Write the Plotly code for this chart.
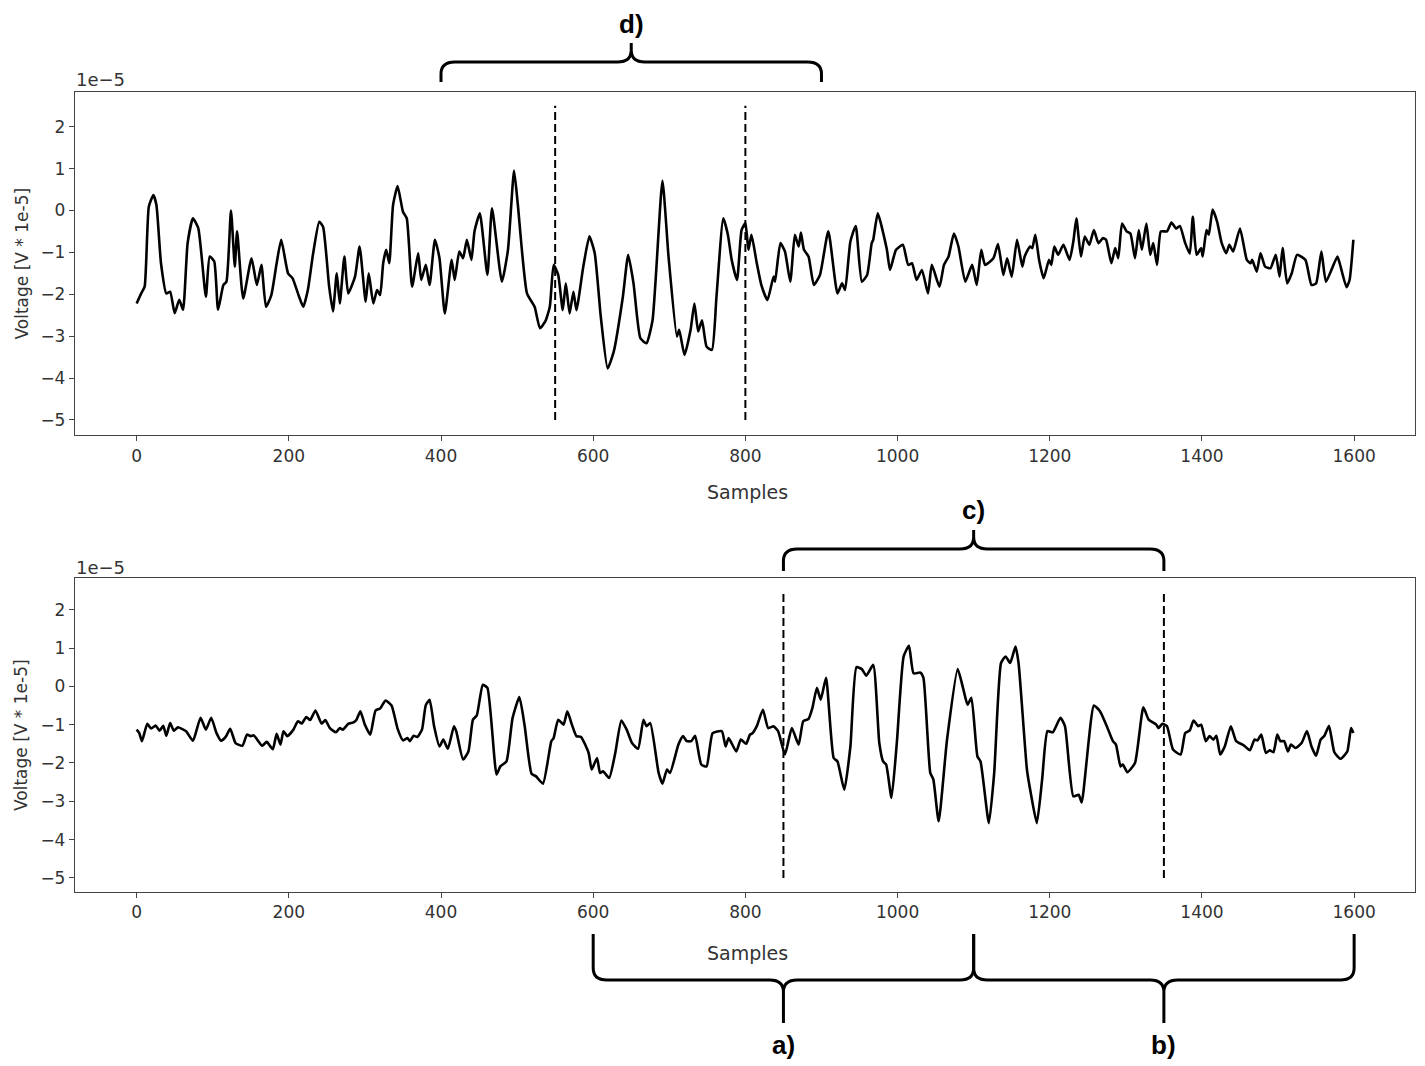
import plotly.graph_objects as go

# ---------------- data ----------------
top_samples = [0, 6, 10.5, 16, 22, 26, 32, 39, 44, 50, 56, 61, 67, 74, 81, 91, 96, 102, 107, 114, 118, 124, 129, 132,
               140, 151, 158, 164, 170, 177, 184, 190, 199, 205, 212, 219, 225, 232, 240, 245, 253, 258, 263, 267,
               273, 278, 287, 293, 301, 305, 311, 316, 320, 324, 328, 332, 337, 343, 350, 355, 362, 370, 374, 380,
               385, 392, 398, 405, 414, 418, 424, 429, 434, 440, 444, 451, 461, 467, 480, 488, 496, 501, 513, 523,
               530, 537, 543, 548, 554, 560, 564, 569, 574, 578, 587, 595, 602, 610, 619, 627, 639, 646, 653, 662,
               670, 678, 691, 699, 710, 713, 720, 728, 733, 738, 743, 749, 756, 762, 771, 777, 782, 789, 795, 800,
               804, 808, 815, 821, 829, 837, 839, 846, 852, 859, 865, 870, 873, 877, 883, 890, 898, 909, 921, 927,
               931, 938, 945, 953, 960, 966, 968, 974, 986, 990, 998, 1007, 1014, 1019, 1025, 1032, 1040, 1045,
               1055, 1061, 1067, 1074, 1080, 1089, 1098, 1104, 1110, 1115, 1126, 1132, 1139, 1144, 1150, 1157,
               1164, 1167, 1174, 1177, 1181, 1186, 1192, 1199, 1202, 1206, 1211, 1218, 1226, 1231, 1235, 1241,
               1246, 1252, 1258, 1264, 1270, 1274, 1281, 1286, 1290, 1295, 1301, 1306, 1312, 1317, 1321, 1327,
               1332, 1336, 1341, 1346, 1354, 1360, 1366, 1371, 1378, 1384, 1388, 1393, 1399, 1401, 1406, 1409,
               1414, 1420, 1426, 1432, 1436, 1441, 1450, 1459, 1464, 1466, 1472, 1477, 1483, 1490, 1497, 1502,
               1506, 1512, 1518, 1525, 1536, 1544, 1550, 1557, 1563, 1578, 1581, 1590, 1594, 1599]
top_voltage = [-2.22, -1.98, -1.82, 0.09, 0.37, 0.13, -1.26, -1.98, -1.94, -2.45, -2.13, -2.37, -0.78, -0.19, -0.42,
               -2.06, -1.10, -1.22, -2.37, -1.78, -1.70, 0.0, -1.34, -0.50, -2.10, -1.14, -1.78, -1.30, -2.30, -2.02,
               -1.26, -0.70, -1.50, -1.62, -1.98, -2.30, -1.90, -1.02, -0.27, -0.39, -1.82, -2.41, -1.50, -2.22,
               -1.10, -1.98, -1.58, -0.86, -2.18, -1.50, -2.22, -1.90, -2.02, -1.26, -0.94, -1.26, 0.13, 0.58, -0.03,
               -0.19, -1.82, -1.02, -1.66, -1.30, -1.78, -0.70, -1.14, -2.46, -1.18, -1.66, -0.98, -1.14, -0.70,
               -1.18, -0.50, -0.07, -1.54, 0.05, -1.70, -0.94, 0.95, 0.13, -1.98, -2.30, -2.81, -2.65, -2.30, -1.30,
               -1.54, -2.38, -1.74, -2.46, -1.94, -2.38, -1.34, -0.62, -1.02, -2.54, -3.77, -3.37, -2.06, -1.06,
               -1.74, -3.05, -3.17, -2.62, 0.71, -1.10, -3.01, -2.85, -3.45, -2.85, -2.22, -2.89, -2.62, -3.25,
               -3.33, -2.06, -0.19, -0.58, -1.18, -1.66, -0.47, -0.30, -0.94, -0.58, -1.26, -1.78, -2.14, -1.58,
               -1.70, -0.78, -0.98, -1.70, -0.58, -0.86, -0.53, -0.94, -1.10, -1.78, -1.54, -0.50, -1.98, -1.74,
               -1.90, -0.74, -0.37, -1.70, -1.54, -0.78, -0.70, -0.07, -0.94, -1.42, -0.94, -0.82, -1.30, -1.26,
               -1.66, -1.42, -1.98, -1.30, -1.82, -1.30, -1.10, -0.55, -0.86, -1.70, -1.30, -1.78, -0.94, -1.30,
               -1.14, -0.80, -1.54, -1.14, -1.58, -0.70, -1.34, -1.10, -0.86, -0.90, -0.58, -1.18, -1.62, -1.18,
               -1.30, -0.86, -1.06, -0.82, -1.18, -0.74, -0.19, -1.10, -0.62, -0.82, -0.47, -0.78, -0.66, -0.70,
               -1.26, -0.90, -1.14, -0.31, -0.50, -0.55, -1.14, -0.47, -0.94, -0.31, -1.06, -0.78, -1.30, -0.50,
               -0.50, -0.29, -0.43, -0.37, -0.78, -1.03, -0.15, -1.06, -0.90, -1.10, -0.47, -0.58, 0.02, -0.27,
               -0.78, -1.02, -0.82, -0.98, -0.43, -1.18, -1.26, -1.18, -1.46, -1.02, -1.34, -1.38, -1.06, -1.58,
               -0.90, -1.74, -1.50, -1.06, -1.18, -1.78, -1.74, -0.98, -1.70, -1.10, -1.26, -1.83, -1.66, -0.70]

bottom_samples = [0, 3.5, 7, 14, 19, 25, 30, 35, 39, 44, 49, 54, 65, 74, 84, 91, 98, 105, 111, 117, 123, 130, 139,
                  145, 150, 154, 165, 171, 179, 184, 189, 193, 198, 206, 212, 217, 223, 228, 235, 243, 248, 254, 262,
                  267, 271, 278, 285, 289, 294, 300, 307, 314, 320, 327, 335, 343, 350, 356, 359, 364, 369, 375, 380,
                  385, 391, 398, 403, 409, 417, 420, 429, 436, 442, 447, 455, 461, 473, 478, 486, 494, 503, 510, 519,
                  525, 534, 545, 548, 554, 561, 566, 572, 578, 584, 594, 598, 605, 609, 613, 621, 629, 637, 644, 651,
                  659, 666, 670, 675, 686, 691, 697, 701, 712, 718, 723, 729, 734, 742, 749, 757, 769, 774, 778, 788,
                  794, 801, 806, 809, 815, 823, 830, 837, 843, 852, 861, 870, 876, 883, 888, 894, 899, 906, 916, 921,
                  930, 938, 946, 953, 959, 968, 976, 981, 985, 992, 999, 1008, 1015, 1021, 1030, 1034, 1043, 1047,
                  1054, 1065, 1079, 1086, 1092, 1097, 1105, 1109, 1120, 1127, 1136, 1142, 1148, 1155, 1159, 1170,
                  1175, 1183, 1190, 1197, 1204, 1214, 1220, 1231, 1238, 1242, 1258, 1266, 1275, 1283, 1287, 1293,
                  1296, 1302, 1312, 1323, 1330, 1340, 1343, 1348, 1354, 1362, 1372, 1378, 1384, 1389, 1395, 1399,
                  1405, 1410, 1415, 1419, 1424, 1430, 1438, 1445, 1455, 1463, 1469, 1473, 1478, 1484, 1489, 1494,
                  1499, 1503, 1508, 1513, 1517, 1523, 1531, 1538, 1544, 1550, 1556, 1561, 1567, 1574, 1582, 1591,
                  1596, 1599]
bottom_voltage = [-1.13, -1.22, -1.43, -0.98, -1.10, -1.02, -1.16, -1.03, -1.29, -0.96, -1.16, -1.07, -1.17, -1.42,
                  -0.82, -1.13, -0.82, -1.22, -1.42, -1.32, -1.11, -1.48, -1.55, -1.26, -1.30, -1.28, -1.55, -1.45,
                  -1.64, -1.24, -1.52, -1.17, -1.30, -1.13, -0.91, -0.97, -0.80, -0.88, -0.63, -0.97, -0.88, -1.09,
                  -1.20, -1.09, -1.13, -0.98, -0.94, -0.87, -0.65, -1.00, -1.26, -0.63, -0.58, -0.37, -0.50, -1.11,
                  -1.41, -1.35, -1.43, -1.29, -1.32, -1.13, -0.49, -0.35, -1.05, -1.57, -1.39, -1.63, -1.04, -1.17,
                  -1.91, -1.70, -0.87, -0.76, 0.04, -0.04, -2.30, -2.09, -1.96, -0.83, -0.28, -1.04, -2.28, -2.35,
                  -2.54, -1.43, -1.35, -0.87, -1.00, -0.65, -1.00, -1.30, -1.32, -1.74, -2.17, -1.87, -2.26, -2.22,
                  -2.39, -1.74, -0.89, -1.13, -1.48, -1.63, -0.87, -1.04, -0.96, -2.26, -2.54, -2.17, -2.26, -1.52,
                  -1.30, -1.43, -1.43, -1.29, -2.04, -2.09, -1.22, -1.17, -1.57, -1.35, -1.70, -1.39, -1.50, -1.26,
                  -1.23, -1.04, -0.61, -1.09, -1.04, -1.17, -1.78, -1.09, -1.52, -0.91, -0.85, -0.57, -0.04, -0.35,
                  0.22, -1.87, -1.96, -2.70, -1.57, 0.50, 0.45, 0.28, 0.56, -1.48, -1.96, -2.04, -2.91, -1.48, 0.78,
                  1.06, 0.34, 0.36, 0.22, -2.26, -2.43, -3.52, -1.39, 0.45, -0.04, -0.48, -0.30, -1.83, -1.96, -3.57,
                  -2.26, 0.61, 0.78, 0.61, 1.04, 0.61, -2.17, -2.78, -3.57, -2.43, -1.17, -1.20, -0.82, -1.04, -2.87,
                  -2.83, -3.03, -0.50, -0.65, -1.04, -1.43, -1.52, -2.09, -2.04, -2.24, -2.00, -0.55, -0.87, -1.00,
                  -1.09, -0.98, -1.04, -1.65, -1.78, -1.22, -1.15, -0.89, -1.04, -1.00, -1.43, -1.30, -1.39, -1.29,
                  -1.78, -1.57, -1.04, -1.43, -1.54, -1.67, -1.39, -1.41, -1.26, -1.74, -1.67, -1.72, -1.26, -1.43,
                  -1.43, -1.70, -1.52, -1.61, -1.48, -1.17, -1.57, -1.81, -1.39, -1.29, -1.03, -1.72, -1.89, -1.70,
                  -1.09, -1.22]

x_ticks = [0, 200, 400, 600, 800, 1000, 1200, 1400, 1600]
y_ticks = [-5, -4, -3, -2, -1, 0, 1, 2]
y_tick_labels = ["\u22125", "\u22124", "\u22123", "\u22122", "\u22121", "0", "1", "2"]

top_marks = [550, 800]          # dashed markers, upper signal
bottom_marks = [850, 1350]      # dashed markers, lower signal
mark_span = [-5, 2.5]

# braces: (label, start sample, end sample, which plot, side)
braces = [("d)", 400, 900, "top", "above"),
          ("c)", 850, 1350, "bottom", "above"),
          ("a)", 600, 1100, "bottom", "below"),
          ("b)", 1100, 1600, "bottom", "below")]

# ---------------- figure ----------------
PAGE_W, PAGE_H = 1425, 1066
OFF = 8                     # default body margin of the html page
W, H = PAGE_W - OFF, PAGE_H - OFF
FONT = "DejaVu Sans"
TXT = "#333333"

def px_x(p):
    return (p - OFF) / W

def px_y(p):
    return 1 - (p - OFF) / H

fig = go.Figure()
fig.add_trace(go.Scatter(x=top_samples, y=top_voltage, mode="lines", xaxis="x", yaxis="y",
                         line=dict(color="black", width=2.6, shape="spline", smoothing=0.5),
                         showlegend=False, hoverinfo="x+y"))
fig.add_trace(go.Scatter(x=bottom_samples, y=bottom_voltage, mode="lines", xaxis="x2", yaxis="y2",
                         line=dict(color="black", width=2.6, shape="spline", smoothing=0.5),
                         showlegend=False, hoverinfo="x+y"))

xdom = [px_x(75), px_x(1415)]
axis_common = dict(showline=True, linecolor="#444444", linewidth=1.3, mirror=True,
                   ticks="outside", ticklen=5, tickwidth=1.2, tickcolor="#444444",
                   showgrid=False, zeroline=False,
                   tickfont=dict(family=FONT, size=17, color=TXT))
xr = [-81, 1680]
yr = [-5.36, 2.82]
fig.update_layout(
    width=W, height=H, margin=dict(l=0, r=0, t=0, b=0),
    paper_bgcolor="white", plot_bgcolor="white",
    xaxis=dict(domain=xdom, range=xr, anchor="y", tickvals=x_ticks, **axis_common),
    yaxis=dict(domain=[px_y(435), px_y(92.3)], range=yr, anchor="x",
               tickvals=y_ticks, ticktext=y_tick_labels, **axis_common),
    xaxis2=dict(domain=xdom, range=xr, anchor="y2", tickvals=x_ticks, **axis_common),
    yaxis2=dict(domain=[px_y(891.7), px_y(578.3)], range=yr, anchor="x2",
                tickvals=y_ticks, ticktext=y_tick_labels, **axis_common),
)

shapes = []
for m in top_marks:
    shapes.append(dict(type="line", xref="x", yref="y", x0=m, x1=m, y0=mark_span[0], y1=mark_span[1],
                       line=dict(color="black", width=2, dash="8px,4px")))
for m in bottom_marks:
    shapes.append(dict(type="line", xref="x2", yref="y2", x0=m, x1=m, y0=mark_span[0], y1=mark_span[1],
                       line=dict(color="black", width=2, dash="8px,4px")))

# brace geometry (pixel rows in the page)
geom = {("top", "above"): dict(tip=82, line=62, cusp=43, label=24),
        ("bottom", "above"): dict(tip=571, line=549, cusp=530, label=510),
        ("bottom", "below"): dict(tip=934, line=980, cusp=1023, label=1045)}
RX = 18      # corner size in samples
RY = 12      # corner size in pixels

def brace_path(x0, x1, yt, yl, yc):
    s = 1 if yc > yl else -1
    ry = RY / H
    xc = (x0 + x1) / 2
    return (f"M {x0},{yt} L {x0},{yl - s*ry} Q {x0},{yl} {x0+RX},{yl} "
            f"L {xc-RX},{yl} Q {xc},{yl} {xc},{yl + s*ry} L {xc},{yc} "
            f"M {xc},{yc} L {xc},{yl + s*ry} Q {xc},{yl} {xc+RX},{yl} "
            f"L {x1-RX},{yl} Q {x1},{yl} {x1},{yl - s*ry} L {x1},{yt}")

annotations = []
for label, a, b, plot, side in braces:
    g = geom[(plot, side)]
    xref = "x" if plot == "top" else "x2"
    shapes.append(dict(type="path", xref=xref, yref="paper",
                       path=brace_path(a, b, px_y(g["tip"]), px_y(g["line"]), px_y(g["cusp"])),
                       line=dict(color="black", width=3)))
    annotations.append(dict(x=(a + b) / 2, y=px_y(g["label"]), xref=xref, yref="paper",
                            text=label, showarrow=False, xanchor="center", yanchor="middle",
                            font=dict(family="Liberation Sans", size=26, color="black", weight="bold")))

for top_px, center_px, samples_px in [(80, 263.5, 492), (567, 735, 953)]:
    annotations.append(dict(x=px_x(74), y=px_y(top_px), xref="paper", yref="paper", text="1e\u22125",
                            showarrow=False, xanchor="left", yanchor="middle",
                            font=dict(family=FONT, size=18, color=TXT)))
    annotations.append(dict(x=px_x(9), y=px_y(center_px), xref="paper", yref="paper",
                            text="Voltage [V * 1e-5]", textangle=-90, showarrow=False,
                            xanchor="left", yanchor="middle",
                            font=dict(family=FONT, size=17, color=TXT)))
    annotations.append(dict(x=px_x(747), y=px_y(samples_px), xref="paper", yref="paper", text="Samples",
                            showarrow=False, xanchor="center", yanchor="middle",
                            font=dict(family=FONT, size=19, color=TXT)))

fig.update_layout(shapes=shapes, annotations=annotations)
fig.write_html("out.html")
